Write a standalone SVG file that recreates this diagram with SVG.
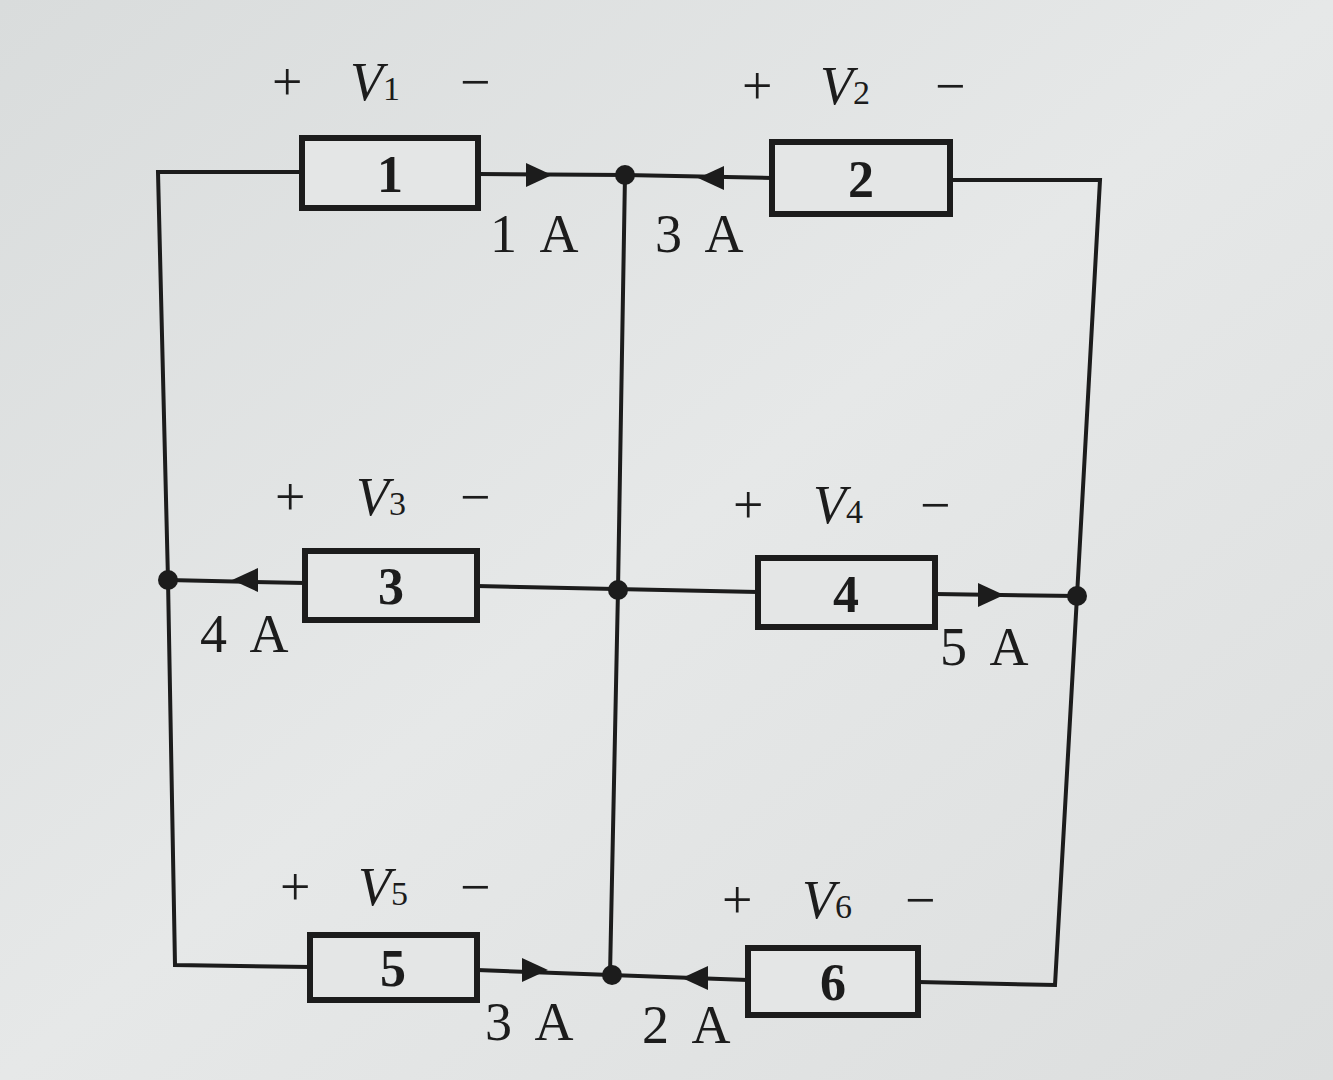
<svg xmlns="http://www.w3.org/2000/svg" width="1333" height="1080" viewBox="0 0 1333 1080">
<defs>
<linearGradient id="bg" x1="0" y1="0" x2="1" y2="1"><stop offset="0" stop-color="#d9dcdc"/><stop offset="0.5" stop-color="#e6e8e8"/><stop offset="1" stop-color="#dcdede"/></linearGradient>
</defs>
<style>
.w{stroke:#1c1c1c;stroke-width:4;fill:none}
.b{stroke:#1c1c1c;stroke-width:6;fill:#e4e6e6}
.n{fill:#1c1c1c}
.t{font-family:"Liberation Serif","Times New Roman",serif;font-size:54px;fill:#1c1c1c}
.c{letter-spacing:6px}
.bn{font-family:"Liberation Serif",serif;font-size:52px;font-weight:bold;fill:#1c1c1c;text-anchor:middle}
.v{font-style:italic}
.s{font-size:34px;font-style:normal}
.ah{fill:#1c1c1c}
</style>
<rect width="1333" height="1080" fill="url(#bg)"/>
<g id="connectors">
<polyline class="w" points="302,172 158,172 168,580 175,965 310,967"/>
<polyline class="w" points="478,174 625,175 772,178"/>
<polyline class="w" points="950,180 1100,180 1077,596 1055,985 918,982"/>
<polyline class="w" points="625,175 618,590 610,975"/>
<line class="w" x1="168" y1="580" x2="305" y2="583"/>
<line class="w" x1="477" y1="586" x2="758" y2="592"/>
<line class="w" x1="935" y1="594" x2="1077" y2="596"/>
<line class="w" x1="477" y1="970" x2="748" y2="980"/>
<path class="ah" d="M526,163L552,175L526,187z"/>
<path class="ah" d="M724,166L698,178L724,190z"/>
<path class="ah" d="M258,568L232,580L258,592z"/>
<path class="ah" d="M978,583L1004,595L978,607z"/>
<path class="ah" d="M522,958L548,970L522,982z"/>
<path class="ah" d="M708,966L682,978L708,990z"/>
<circle class="n" cx="625" cy="175" r="10"/>
<circle class="n" cx="168" cy="580" r="10"/>
<circle class="n" cx="618" cy="590" r="10"/>
<circle class="n" cx="1077" cy="596" r="10"/>
<circle class="n" cx="612" cy="975" r="10"/>
</g>
<g id="r1"><rect class="b" x="302" y="138" width="176" height="70"/><text class="bn" x="390" y="192">1</text><text class="t" x="272" y="100">+</text><text class="t" x="350" y="100"><tspan class="v">V</tspan><tspan class="s">1</tspan></text><text class="t" x="460" y="100">−</text></g>
<g id="r2"><rect class="b" x="772" y="142" width="178" height="72"/><text class="bn" x="861" y="197">2</text><text class="t" x="742" y="104">+</text><text class="t" x="820" y="104"><tspan class="v">V</tspan><tspan class="s">2</tspan></text><text class="t" x="935" y="104">−</text></g>
<g id="r3"><rect class="b" x="305" y="551" width="172" height="69"/><text class="bn" x="391" y="604">3</text><text class="t" x="275" y="515">+</text><text class="t" x="356" y="515"><tspan class="v">V</tspan><tspan class="s">3</tspan></text><text class="t" x="460" y="515">−</text></g>
<g id="r4"><rect class="b" x="758" y="558" width="177" height="69"/><text class="bn" x="846" y="612">4</text><text class="t" x="733" y="523">+</text><text class="t" x="813" y="523"><tspan class="v">V</tspan><tspan class="s">4</tspan></text><text class="t" x="920" y="523">−</text></g>
<g id="r5"><rect class="b" x="310" y="935" width="167" height="65"/><text class="bn" x="393" y="986">5</text><text class="t" x="280" y="905">+</text><text class="t" x="358" y="905"><tspan class="v">V</tspan><tspan class="s">5</tspan></text><text class="t" x="460" y="905">−</text></g>
<g id="r6"><rect class="b" x="748" y="948" width="170" height="67"/><text class="bn" x="833" y="1000">6</text><text class="t" x="722" y="918">+</text><text class="t" x="802" y="918"><tspan class="v">V</tspan><tspan class="s">6</tspan></text><text class="t" x="905" y="918">−</text></g>
<g id="labels">
<text class="t c" x="490" y="252">1 A</text>
<text class="t c" x="655" y="252">3 A</text>
<text class="t c" x="200" y="652">4 A</text>
<text class="t c" x="940" y="665">5 A</text>
<text class="t c" x="485" y="1040">3 A</text>
<text class="t c" x="642" y="1043">2 A</text>
</g>
</svg>
